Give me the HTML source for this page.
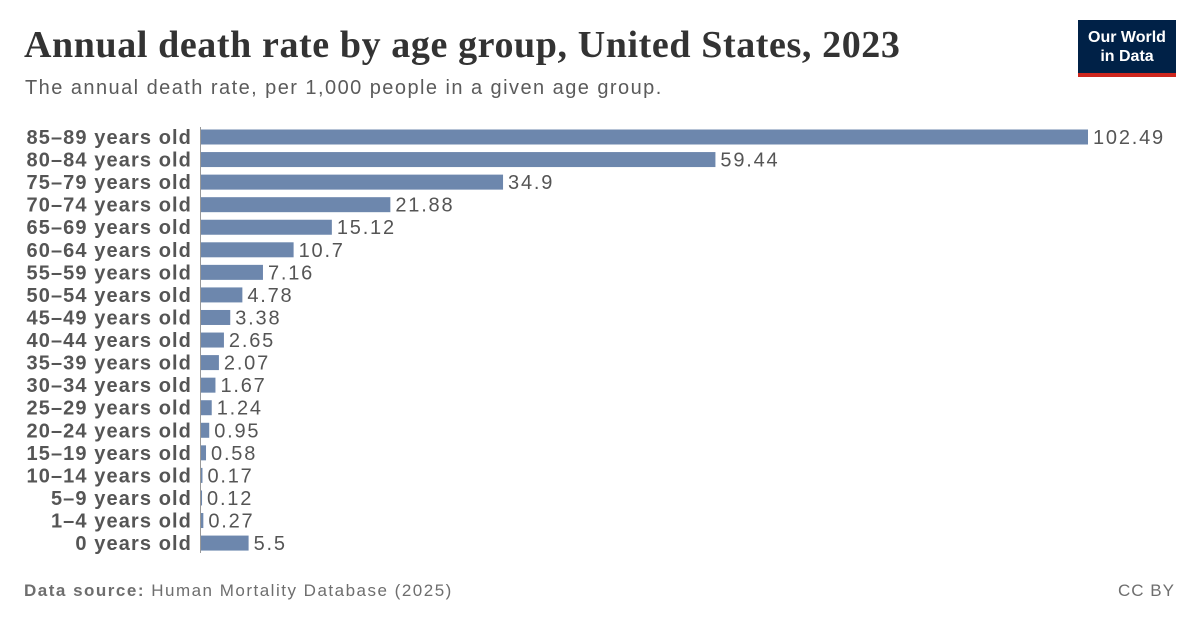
<!DOCTYPE html>
<html><head><meta charset="utf-8"><style>
body{margin:0;width:1200px;height:627px;background:#fff;font-family:"Liberation Sans",sans-serif;overflow:hidden;position:relative}
.t{position:absolute;white-space:nowrap}
</style></head><body>
<div class="t" style="left:24px;top:23px;font-family:'Liberation Serif',serif;font-size:38px;letter-spacing:0.6px;font-weight:bold;color:#333">Annual death rate by age group, United States, 2023</div>
<div class="t" style="left:25px;top:77px;font-size:20px;letter-spacing:1.45px;color:#5b5b5b">The annual death rate, per 1,000 people in a given age group.</div>
<div style="position:absolute;left:1078px;top:20px;width:98px;height:57px;background:#002147;border-bottom:4px solid #ce261e;box-sizing:border-box;color:#fff;font-size:16px;font-weight:bold;line-height:19px;text-align:center;padding-top:8px">Our World<br>in Data</div>
<svg id="c" width="1200" height="627" style="position:absolute;left:0;top:0"></svg>
<div class="t" style="left:24px;top:581px;font-size:17px;letter-spacing:1.5px;color:#6e6e6e"><b>Data source:</b> Human Mortality Database (2025)</div>
<div class="t" style="right:25px;top:581px;font-size:17px;letter-spacing:1px;color:#6e6e6e">CC BY</div>
<script>
const categories=["85–89 years old","80–84 years old","75–79 years old","70–74 years old","65–69 years old","60–64 years old","55–59 years old","50–54 years old","45–49 years old","40–44 years old","35–39 years old","30–34 years old","25–29 years old","20–24 years old","15–19 years old","10–14 years old","5–9 years old","1–4 years old","0 years old"];
const values=[102.49,59.44,34.9,21.88,15.12,10.7,7.16,4.78,3.38,2.65,2.07,1.67,1.24,0.95,0.58,0.17,0.12,0.27,5.5];
const labels=["102.49","59.44","34.9","21.88","15.12","10.7","7.16","4.78","3.38","2.65","2.07","1.67","1.24","0.95","0.58","0.17","0.12","0.27","5.5"];
const svg=document.getElementById('c'),NS='http://www.w3.org/2000/svg';
const x0=201,maxV=Math.max(...values),x=v=>x0+v*(887/maxV);
const y=i=>137+i*22.56;
const ax=document.createElementNS(NS,'line');


ax.setAttribute('x1',200.5);ax.setAttribute('x2',200.5);ax.setAttribute('y1',127);ax.setAttribute('y2',553);ax.setAttribute('stroke','#999');
svg.appendChild(ax);
categories.forEach((c,i)=>{
 const r=document.createElementNS(NS,'rect');
 
 
 r.setAttribute('x',x0);r.setAttribute('y',y(i)-7.5);r.setAttribute('width',Math.max(1,x(values[i])-x0));r.setAttribute('height',15);r.setAttribute('fill','#6d87ad');
 svg.appendChild(r);
 const l=document.createElementNS(NS,'text');
 
 
 l.setAttribute('x',192);l.setAttribute('y',y(i)+7);l.setAttribute('text-anchor','end');l.setAttribute('font-size','20');l.setAttribute('letter-spacing','1.1');l.setAttribute('font-weight','bold');l.setAttribute('fill','#555');l.setAttribute('font-family','Liberation Sans, sans-serif');
 l.textContent=c;svg.appendChild(l);
 const v=document.createElementNS(NS,'text');
 
 
 v.setAttribute('x',x(values[i])+5);v.setAttribute('y',y(i)+7);v.setAttribute('font-size','20');v.setAttribute('letter-spacing','1.8');v.setAttribute('fill','#555');v.setAttribute('font-family','Liberation Sans, sans-serif');
 v.textContent=labels[i];svg.appendChild(v);
});
</script>
</body></html>
